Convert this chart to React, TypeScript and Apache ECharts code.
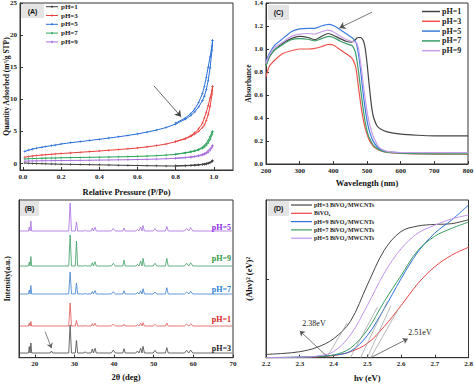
import React, { useEffect, useRef } from 'react';
import * as echarts from 'echarts';

const SERIF = '"Liberation Serif", "Times New Roman", serif';
const SANS = '"Liberation Sans", Arial, sans-serif';

// ---------- Panel A : N2 isotherms ----------
const isoNames = ['pH=1', 'pH=3', 'pH=5', 'pH=7', 'pH=9'];
const isoColors = ['#3c3c3c', '#e8413c', '#2a6fd6', '#2ea35c', '#a76fdc'];
const isoPAds = [0.01, 0.03, 0.05, 0.07, 0.1, 0.12, 0.15, 0.17, 0.2, 0.25, 0.3, 0.35, 0.4, 0.45, 0.5, 0.55, 0.6, 0.65, 0.7, 0.75, 0.8, 0.85, 0.88, 0.9, 0.92, 0.94, 0.95, 0.96, 0.97, 0.98, 0.99, 0.993];
const isoPDes = [0.993, 0.99, 0.98, 0.97, 0.96, 0.95, 0.94, 0.92, 0.9, 0.88, 0.85, 0.8];
const adsPH1 = [0.1, 0.05, 0.02, 0.0, -0.02, -0.04, -0.06, -0.08, -0.1, -0.12, -0.15, -0.17, -0.2, -0.22, -0.25, -0.28, -0.3, -0.33, -0.35, -0.37, -0.38, -0.35, -0.3, -0.27, -0.22, -0.15, -0.1, -0.05, 0.02, 0.12, 0.3, 0.45];
const adsPH3 = [1.0, 1.1, 1.18, 1.25, 1.33, 1.38, 1.45, 1.5, 1.56, 1.66, 1.76, 1.86, 1.96, 2.07, 2.18, 2.3, 2.43, 2.6, 2.8, 3.05, 3.4, 3.85, 4.25, 4.6, 5.0, 5.6, 6.0, 6.7, 7.6, 8.9, 10.8, 12.0];
const adsPH5 = [1.9, 2.1, 2.25, 2.4, 2.55, 2.65, 2.8, 2.88, 3.05, 3.25, 3.42, 3.6, 3.78, 3.97, 4.17, 4.38, 4.62, 4.9, 5.22, 5.62, 6.15, 6.9, 7.5, 8.05, 8.8, 9.8, 10.5, 11.5, 12.9, 14.9, 17.6, 19.2];
const adsPH7 = [0.7, 0.75, 0.78, 0.8, 0.83, 0.85, 0.87, 0.88, 0.9, 0.93, 0.95, 0.98, 1.0, 1.02, 1.05, 1.08, 1.12, 1.17, 1.23, 1.32, 1.45, 1.65, 1.82, 1.95, 2.12, 2.4, 2.6, 2.85, 3.2, 3.7, 4.5, 5.0];
const adsPH9 = [0.38, 0.4, 0.41, 0.42, 0.43, 0.44, 0.45, 0.46, 0.47, 0.49, 0.5, 0.52, 0.54, 0.56, 0.58, 0.6, 0.63, 0.66, 0.7, 0.75, 0.82, 0.92, 1.0, 1.07, 1.17, 1.32, 1.42, 1.56, 1.75, 2.05, 2.5, 2.8];
const desPH1 = [0.45, 0.38, 0.2, 0.08, 0.0, -0.06, -0.1, -0.18, -0.22, -0.26, -0.3, -0.35];
const desPH3 = [12.0, 11.4, 10.2, 9.0, 8.0, 7.1, 6.3, 5.4, 4.8, 4.35, 3.9, 3.45];
const desPH5 = [19.2, 18.3, 16.6, 15.0, 13.4, 12.0, 10.9, 9.5, 8.5, 7.8, 7.1, 6.3];
const desPH7 = [5.0, 4.8, 4.2, 3.6, 3.15, 2.8, 2.55, 2.2, 2.0, 1.85, 1.68, 1.46];
const desPH9 = [2.8, 2.65, 2.3, 2.0, 1.75, 1.58, 1.45, 1.25, 1.12, 1.03, 0.94, 0.83];
const isoAds = [adsPH1, adsPH3, adsPH5, adsPH7, adsPH9];
const isoDes = [desPH1, desPH3, desPH5, desPH7, desPH9];
const isoXTicks = [0, 0.2, 0.4, 0.6, 0.8, 1.0];
const isoYTicks = [0, 5, 10, 15, 20, 25];

// ---------- Panel C : UV-vis ----------
const uvNames = ['pH=1', 'pH=3', 'pH=5', 'pH=7', 'pH=9'];
const uvColors = ['#454545', '#f0524c', '#3a7be0', '#3a9e68', '#c79ce9'];
const uvWave = [200, 210, 225, 250, 275, 300, 325, 345, 365, 385, 400, 420, 440, 455, 465, 470, 475, 480, 485, 490, 495, 500, 505, 510, 515, 520, 530, 540, 560, 600, 650, 700, 750, 800];
const uvPH1 = [0.86, 0.93, 0.99, 1.05, 1.09, 1.11, 1.1, 1.08, 1.11, 1.135, 1.12, 1.09, 1.065, 1.06, 1.08, 1.095, 1.1, 1.1, 1.09, 1.065, 1.0, 0.88, 0.73, 0.59, 0.47, 0.4, 0.33, 0.305, 0.28, 0.26, 0.25, 0.245, 0.245, 0.245];
const uvPH3 = [0.76, 0.85, 0.9, 0.96, 0.985, 1.0, 1.0, 1.005, 1.02, 1.04, 1.035, 0.995, 0.955, 0.92, 0.86, 0.78, 0.66, 0.55, 0.45, 0.37, 0.31, 0.26, 0.22, 0.19, 0.17, 0.15, 0.13, 0.115, 0.1, 0.092, 0.088, 0.086, 0.085, 0.085];
const uvPH5 = [0.89, 0.96, 1.03, 1.09, 1.15, 1.175, 1.18, 1.18, 1.2, 1.215, 1.205, 1.17, 1.13, 1.1, 1.07, 1.03, 0.95, 0.84, 0.71, 0.58, 0.47, 0.38, 0.31, 0.26, 0.22, 0.19, 0.15, 0.125, 0.108, 0.098, 0.098, 0.1, 0.1, 0.1];
const uvPH7 = [0.85, 0.93, 0.99, 1.04, 1.08, 1.09, 1.085, 1.07, 1.09, 1.11, 1.1, 1.07, 1.045, 1.03, 0.98, 0.9, 0.8, 0.68, 0.56, 0.45, 0.36, 0.29, 0.24, 0.21, 0.18, 0.16, 0.135, 0.118, 0.102, 0.094, 0.09, 0.088, 0.088, 0.088];
const uvPH9 = [0.875, 0.95, 1.01, 1.06, 1.11, 1.13, 1.135, 1.13, 1.15, 1.165, 1.15, 1.11, 1.08, 1.065, 1.06, 1.05, 1.0, 0.9, 0.79, 0.67, 0.56, 0.46, 0.38, 0.32, 0.27, 0.23, 0.17, 0.135, 0.11, 0.1, 0.1, 0.1, 0.1, 0.1];
const uvData = [uvPH1, uvPH3, uvPH5, uvPH7, uvPH9];

// ---------- Panel B : XRD ----------
const xrdNames = ['pH=5', 'pH=9', 'pH=7', 'pH=1', 'pH=3'];
const xrdLineColors = ['#a86be4', '#3a9e62', '#3a7fd2', '#e25454', '#454545'];
const xrdLabelColors = ['#8a2be2', '#2e9a3e', '#2a7fd4', '#d42020', '#222222'];
const xrdBaselines = [126.7, 91.7, 63.7, 31.7, 4.7];
const xrdPeakPos = [18.6, 19.0, 24.2, 28.9, 30.5, 32.7, 34.5, 35.2, 39.8, 42.5, 45.9, 46.7, 47.3, 50.3, 53.3, 58.3, 59.3];
const xrdPeakHalfWidth = [0.2, 0.2, 0.3, 0.35, 0.3, 0.3, 0.3, 0.3, 0.5, 0.3, 0.4, 0.35, 0.35, 0.45, 0.35, 0.55, 0.55];
const xrdPH5 = [4, 10, 0, 28, 9, 0.5, 3, 3.8, 2.5, 3, 1.5, 4, 5.5, 2.5, 4.5, 2.5, 3.5];
const xrdPH9 = [4, 9.5, 0, 31, 25, 0.5, 3.3, 4.3, 2.7, 6, 1.5, 5, 7.7, 2.7, 7.7, 2.7, 3.3];
const xrdPH7 = [4, 8.5, 0, 22, 11, 0.5, 2.5, 3.5, 2.3, 3.3, 1.5, 3.3, 5.3, 2, 6.3, 2, 2.7];
const xrdPH1 = [3, 4.5, 0, 23, 5.5, 0.5, 2.3, 2.7, 2, 1.7, 1.2, 2.7, 3.3, 1.7, 3, 1.7, 2.3];
const xrdPH3 = [6.5, 10, 2, 28, 12.5, 1.3, 4, 4.7, 3, 4.3, 2, 4.7, 6.7, 2.7, 5.3, 2.7, 3];
const xrdHeights = [xrdPH5, xrdPH9, xrdPH7, xrdPH1, xrdPH3];
const xrdRange = [16.2, 69.8];
const xrdXTicks = [20, 30, 40, 50, 60, 70];

// ---------- Panel D : Tauc plots ----------
const taucNames = ['pH=3 BiVO₄/MWCNTs', 'BiVO₄', 'pH=9 BiVO₄/MWCNTs', 'pH=7 BiVO₄/MWCNTs', 'pH=5 BiVO₄/MWCNTs'];
const taucColors = ['#454545', '#e84545', '#2f70d8', '#3a9e62', '#c194ea'];
const taucE = [2.2, 2.25, 2.3, 2.35, 2.4, 2.45, 2.5, 2.55, 2.6, 2.65, 2.7, 2.75, 2.8];
const taucPH3 = [0.021, 0.027, 0.038, 0.065, 0.12, 0.23, 0.46, 0.68, 0.8, 0.835, 0.845, 0.85, 0.875];
const taucBiVO4 = [0.0, 0.001, 0.002, 0.006, 0.013, 0.038, 0.09, 0.197, 0.33, 0.47, 0.577, 0.65, 0.7];
const taucPH9 = [0.0, 0.001, 0.003, 0.008, 0.016, 0.04, 0.14, 0.31, 0.5, 0.67, 0.79, 0.873, 0.968];
const taucPH7 = [0.001, 0.002, 0.004, 0.008, 0.017, 0.06, 0.175, 0.355, 0.52, 0.68, 0.77, 0.82, 0.86];
const taucPH5 = [0.001, 0.002, 0.004, 0.01, 0.038, 0.144, 0.33, 0.535, 0.69, 0.79, 0.84, 0.88, 0.905];
const taucData = [taucPH3, taucBiVO4, taucPH9, taucPH7, taucPH5];
const taucTangents = [
  [[2.38, 0], [2.44, 0.22]],
  [[2.45, 0], [2.53, 0.32]],
  [[2.48, 0], [2.56, 0.36]],
  [[2.5, 0], [2.57, 0.33]],
  [[2.51, 0], [2.59, 0.3]],
];
const taucXTicks = [2.2, 2.3, 2.4, 2.5, 2.6, 2.7, 2.8];

const PLUS = 'path://M4 0H6V4H10V6H6V10H4V6H0V4H4Z';

function axisBase(gridIndex: number) {
  return {
    gridIndex,
    type: 'value' as const,
    splitLine: { show: false },
    axisLine: { show: true, onZero: false, lineStyle: { color: '#333', width: 1 } },
    axisTick: { show: true, inside: true, length: 3, lineStyle: { color: '#333' } },
    axisLabel: { color: '#222', fontSize: 7, fontWeight: 'bold' as const, fontFamily: SERIF, margin: 3 },
    nameLocation: 'middle' as const,
    nameMoveOverlap: false,
    nameTextStyle: { color: '#111', fontSize: 8.5, fontWeight: 'bold' as const, fontFamily: SERIF },
  };
}

function arrowLine(x1: number, y1: number, x2: number, y2: number) {
  return [{ coord: [x1, y1] }, { coord: [x2, y2] }];
}

function buildOption() {
  const series: any[] = [];

  // Panel A
  isoNames.forEach((name, i) => {
    const data: number[][] = [];
    isoPAds.forEach((p, k) => data.push([p, isoAds[i][k]]));
    isoPDes.forEach((p, k) => data.push([p, isoDes[i][k]]));
    const s: any = {
      type: 'line', name, xAxisIndex: 0, yAxisIndex: 0, data,
      symbol: PLUS, symbolSize: 2.6, showSymbol: true,
      lineStyle: { color: isoColors[i], width: 1 },
      itemStyle: { color: isoColors[i] },
    };
    if (i === 2) {
      s.markLine = {
        silent: true, symbol: ['none', 'arrow'], symbolSize: 6, label: { show: false },
        lineStyle: { color: '#444', width: 0.8, type: 'solid' },
        data: [arrowLine(0.686, 12.1, 0.828, 7.3)],
      };
    }
    series.push(s);
  });

  // Panel C
  uvNames.forEach((name, i) => {
    const s: any = {
      type: 'line', name, xAxisIndex: 1, yAxisIndex: 1,
      data: uvWave.map((w, k) => [w, uvData[i][k]]),
      showSymbol: false, smooth: 0.2,
      lineStyle: { color: uvColors[i], width: 1.2 },
      itemStyle: { color: uvColors[i] },
    };
    if (i === 2) {
      s.markLine = {
        silent: true, symbol: ['none', 'arrow'], symbolSize: 6, label: { show: false },
        lineStyle: { color: '#555', width: 0.8, type: 'solid' },
        data: [arrowLine(515, 1.32, 418, 1.183)],
      };
    }
    series.push(s);
  });

  // Panel B
  xrdNames.forEach((name, i) => {
    const base = xrdBaselines[i];
    const data: number[][] = [[xrdRange[0], base]];
    xrdPeakPos.forEach((pos, k) => {
      const h = xrdHeights[i][k];
      if (h <= 0) return;
      const w = xrdPeakHalfWidth[k];
      data.push([pos - w, base], [pos, base + h], [pos + w, base]);
    });
    data.push([xrdRange[1], base]);
    const s: any = {
      type: 'line', name, xAxisIndex: 2, yAxisIndex: 2, data,
      showSymbol: false,
      lineStyle: { color: xrdLineColors[i], width: 0.8 },
      itemStyle: { color: xrdLineColors[i] },
    };
    if (i === 4) {
      s.markLine = {
        silent: true, symbol: ['none', 'arrow'], symbolSize: 5, label: { show: false },
        lineStyle: { color: '#666', width: 0.8, type: 'solid' },
        data: [arrowLine(22.6, 26, 24.2, 9.5)],
      };
    }
    series.push(s);
  });

  // Panel D
  taucNames.forEach((name, i) => {
    const s: any = {
      type: 'line', name, xAxisIndex: 3, yAxisIndex: 3,
      data: taucE.map((e, k) => [e, taucData[i][k]]),
      showSymbol: false, smooth: 0.35,
      lineStyle: { color: taucColors[i], width: 1 },
      itemStyle: { color: taucColors[i] },
    };
    if (i === 0) {
      s.markLine = {
        silent: true, symbol: ['none', 'arrow'], symbolSize: 5, label: { show: false },
        lineStyle: { color: '#555', width: 0.8, type: 'solid' },
        data: [arrowLine(2.385, 0.0, 2.3, 0.17), arrowLine(2.51, 0.0, 2.62, 0.12)],
      };
    }
    series.push(s);
  });
  taucTangents.forEach((seg, i) => {
    series.push({
      type: 'line', name: 'tangent' + i, xAxisIndex: 3, yAxisIndex: 3,
      data: seg, showSymbol: false, silent: true,
      lineStyle: { color: '#9a9a9a', width: 0.7 },
    });
  });

  const graphic: any[] = [];
  const tag = (x: number, y: number, w: number, h: number, text: string) => {
    graphic.push({ type: 'rect', shape: { x, y, width: w, height: h }, style: { fill: '#e4e4e4' }, z: 5 });
    graphic.push({
      type: 'text', x: x + w / 2, y: y + h / 2, z: 6,
      style: { text, fill: '#111', font: `bold 7px ${SANS}`, align: 'center', verticalAlign: 'middle' },
    });
  };
  tag(21, 4, 23, 14, '(A)');
  tag(268, 5, 21, 15, '(C)');
  tag(20, 201, 19, 15, '(B)');
  tag(268, 201, 21, 15, '(D)');

  // legend A
  const legAY = [6.7, 15.5, 24.3, 33.1, 41.9];
  isoNames.forEach((name, i) => {
    const y = legAY[i];
    graphic.push({ type: 'line', shape: { x1: 46, y1: y, x2: 58, y2: y }, style: { stroke: isoColors[i], lineWidth: 1 }, z: 6 });
    graphic.push({ type: 'line', shape: { x1: 51, y1: y, x2: 53, y2: y }, style: { stroke: isoColors[i], lineWidth: 1 }, z: 6 });
    graphic.push({ type: 'line', shape: { x1: 52, y1: y - 1.2, x2: 52, y2: y + 1.2 }, style: { stroke: isoColors[i], lineWidth: 0.8 }, z: 6 });
    graphic.push({
      type: 'text', x: 61, y, z: 6,
      style: { text: name, fill: '#222', font: `bold 7px ${SERIF}`, verticalAlign: 'middle' },
    });
  });
  // legend C
  const legCY = [11.5, 21.3, 31.1, 40.9, 50.7];
  uvNames.forEach((name, i) => {
    const y = legCY[i];
    graphic.push({ type: 'line', shape: { x1: 422, y1: y, x2: 440, y2: y }, style: { stroke: uvColors[i], lineWidth: 1.5 }, z: 6 });
    graphic.push({
      type: 'text', x: 442, y, z: 6,
      style: { text: name, fill: '#222', font: `bold 8px ${SERIF}`, verticalAlign: 'middle' },
    });
  });
  // legend D
  const legDY = [205, 213.3, 221.6, 229.9, 238.2];
  taucNames.forEach((name, i) => {
    const y = legDY[i];
    graphic.push({ type: 'line', shape: { x1: 291, y1: y, x2: 312, y2: y }, style: { stroke: taucColors[i], lineWidth: 1.2 }, z: 6 });
    graphic.push({
      type: 'text', x: 314, y, z: 6,
      style: { text: name, fill: '#222', font: `bold 6px ${SERIF}`, verticalAlign: 'middle' },
    });
  });
  // XRD labels
  const xrdLabelY = [227.5, 258, 289, 319, 348];
  xrdNames.forEach((name, i) => {
    graphic.push({
      type: 'text', x: 231, y: xrdLabelY[i], z: 6,
      style: { text: name, fill: xrdLabelColors[i], font: `bold 8px ${SERIF}`, align: 'right', verticalAlign: 'middle' },
    });
  });
  // band gap labels
  graphic.push({ type: 'text', x: 314, y: 323, z: 6, style: { text: '2.38eV', fill: '#222', font: `8px ${SERIF}`, align: 'center', verticalAlign: 'middle' } });
  graphic.push({ type: 'text', x: 420, y: 332, z: 6, style: { text: '2.51eV', fill: '#222', font: `8px ${SERIF}`, align: 'center', verticalAlign: 'middle' } });

  const gridBase = { show: true, borderColor: '#333', borderWidth: 1, containLabel: false, outerBoundsMode: 'none' };

  return {
    animation: false,
    backgroundColor: '#ffffff',
    textStyle: { fontFamily: SERIF },
    grid: [
      { ...gridBase, left: 20, top: 3, width: 213, height: 167 },
      { ...gridBase, left: 266, top: 3, width: 202, height: 161 },
      { ...gridBase, left: 19, top: 200, width: 214, height: 157.7 },
      { ...gridBase, left: 266, top: 200, width: 202.5, height: 157.7 },
    ],
    xAxis: [
      {
        ...axisBase(0), min: -0.015, max: 1.1, name: 'Relative Pressure (P/Po)', nameGap: 17,
        axisLabel: { ...axisBase(0).axisLabel, customValues: isoXTicks, formatter: (v: number) => v.toFixed(1) },
        axisTick: { ...axisBase(0).axisTick, customValues: isoXTicks },
      },
      {
        ...axisBase(1), min: 200, max: 800, interval: 100, name: 'Wavelength (nm)', nameGap: 14,
      },
      {
        ...axisBase(2), min: 16, max: 70, name: '2θ (deg)', nameGap: 15,
        axisLabel: { ...axisBase(2).axisLabel, customValues: xrdXTicks },
        axisTick: { ...axisBase(2).axisTick, customValues: xrdXTicks },
      },
      {
        ...axisBase(3), min: 2.2, max: 2.8, name: 'hv (eV)', nameGap: 16,
        axisLabel: { ...axisBase(3).axisLabel, customValues: taucXTicks, formatter: (v: number) => v.toFixed(1) },
        axisTick: { ...axisBase(3).axisTick, customValues: taucXTicks },
      },
    ],
    yAxis: [
      {
        ...axisBase(0), min: -1, max: 25, name: 'Quantity Adsorbed (m³/g STP)', nameGap: 10,
        axisLabel: { ...axisBase(0).axisLabel, customValues: isoYTicks },
        axisTick: { ...axisBase(0).axisTick, customValues: isoYTicks },
        nameTextStyle: { ...axisBase(0).nameTextStyle, fontSize: 7.5 },
      },
      {
        ...axisBase(1), min: 0, max: 1.4, interval: 0.2, name: 'Absorbance', nameGap: 14,
        axisLabel: { ...axisBase(1).axisLabel, formatter: (v: number) => v.toFixed(1) },
        nameTextStyle: { ...axisBase(1).nameTextStyle, fontSize: 7.5 },
      },
      {
        ...axisBase(2), min: 0, max: 157.7, name: 'Intensity(a.u.)', nameGap: 8,
        axisLabel: { show: false }, axisTick: { show: false },
        nameTextStyle: { ...axisBase(2).nameTextStyle, fontSize: 7.5 },
      },
      {
        ...axisBase(3), min: 0, max: 1, name: '(Ahv)² (eV)²', nameGap: 13,
        axisLabel: { show: false },
        axisTick: { ...axisBase(3).axisTick, customValues: [0.5] },
      },
    ],
    series,
    graphic,
  };
}

export default function App() {
  const ref = useRef<HTMLDivElement>(null);
  useEffect(() => {
    if (!ref.current) return;
    const chart = echarts.init(ref.current, undefined, { renderer: 'svg' });
    chart.setOption(buildOption() as any);
    return () => chart.dispose();
  }, []);
  return (
    <div
      ref={ref}
      style={{ width: 474, height: 385, position: 'fixed', left: 0, top: 0, background: '#fff' }}
    />
  );
}
